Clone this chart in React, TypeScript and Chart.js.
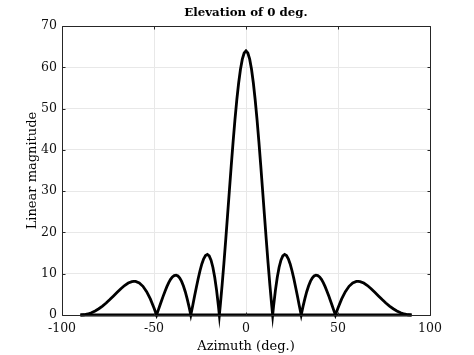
import React, { useEffect, useRef } from "react";
import { Chart, registerables } from "chart.js";

Chart.register(...registerables);

// Azimuth angles (deg.)
const azimuth: number[] = [
  -90, -88, -86, -84, -82, -80, -78, -76, -74, -72, -70, -68, -66, -64, -62, -61, -60, -58, -56, -54, -52, -50,
  -49, -48.59, -48, -47, -46, -45, -44, -43, -42, -41, -40, -39, -38, -37, -36, -35, -34, -33, -32, -31,
  -30, -29, -28, -27, -26, -25, -24, -23, -22, -21, -20, -19, -18, -17, -16, -15, -14.48, -14, -13, -12,
  -11, -10, -9, -8, -7, -6, -5, -4, -3, -2, -1, 0,
  1, 2, 3, 4, 5, 6, 7, 8, 9, 10, 11, 12, 13, 14, 14.48, 15, 16, 17, 18, 19, 20, 21, 22, 23, 24, 25,
  26, 27, 28, 29, 30, 31, 32, 33, 34, 35, 36, 37, 38, 39, 40, 41, 42, 43, 44, 45, 46, 47, 48, 48.59, 49,
  50, 52, 54, 56, 58, 60, 61, 62, 64, 66, 68, 70, 72, 74, 76, 78, 80, 82, 84, 86, 88, 90,
];

// Linear magnitude
const magnitude: number[] = [
  0, 0.06, 0.25, 0.55, 0.98, 1.52, 2.17, 2.92, 3.75, 4.63, 5.52, 6.38, 7.15, 7.74, 8.1, 8.16, 8.13, 7.76, 6.95, 5.65, 3.89, 1.72,
  0.51, 0, 0.75, 2.04, 3.33, 4.58, 5.78, 6.87, 7.84, 8.63, 9.21, 9.56, 9.65, 9.45, 8.95, 8.15, 7.04, 5.64, 3.97, 2.08,
  0, 2.2, 4.46, 6.68, 8.8, 10.73, 12.36, 13.62, 14.41, 14.66, 14.31, 13.29, 11.58, 9.16, 6.04, 2.24, 0, 2.19, 7.16, 12.58,
  18.34, 24.32, 30.35, 36.3, 42.02, 47.34, 52.11, 56.23, 59.56, 62.0, 63.5, 64,
  63.5, 62.0, 59.56, 56.23, 52.11, 47.34, 42.02, 36.3, 30.35, 24.32, 18.34, 12.58, 7.16, 2.19, 0, 2.24, 6.04, 9.16, 11.58, 13.29, 14.31, 14.66, 14.41, 13.62, 12.36, 10.73,
  8.8, 6.68, 4.46, 2.2, 0, 2.08, 3.97, 5.64, 7.04, 8.15, 8.95, 9.45, 9.65, 9.56, 9.21, 8.63, 7.84, 6.87, 5.78, 4.58, 3.33, 2.04, 0.75, 0, 0.51,
  1.72, 3.89, 5.65, 6.95, 7.76, 8.13, 8.16, 8.1, 7.74, 7.15, 6.38, 5.52, 4.63, 3.75, 2.92, 2.17, 1.52, 0.98, 0.55, 0.25, 0.06, 0,
];

// Zero baseline trace
const baseAzimuth: number[] = [-90, 90];
const baseMagnitude: number[] = [0, 0];

const xTickValues: number[] = [-100, -50, 0, 50, 100];
const yTickValues: number[] = [0, 10, 20, 30, 40, 50, 60, 70];

const titleText = "Elevation of 0 deg.";
const xLabel = "Azimuth (deg.)";
const yLabel = "Linear magnitude";

const FONT = "'DejaVu Serif', serif";

const boxPlugin = {
  id: "boxPlugin",
  afterDraw(chart: any) {
    const { ctx, chartArea } = chart;
    const xs = chart.scales.x;
    const ys = chart.scales.y;
    ctx.save();
    ctx.strokeStyle = "#262626";
    ctx.lineWidth = 1;
    const L = Math.round(chartArea.left) + 0.5;
    const R = Math.round(chartArea.right) + 0.5;
    const T = Math.round(chartArea.top) + 0.5;
    const B = Math.round(chartArea.bottom) + 0.5;
    ctx.beginPath();
    ctx.rect(L, T, R - L, B - T);
    ctx.stroke();
    const tl = 3;
    ctx.beginPath();
    xTickValues.forEach((v) => {
      const px = Math.round(xs.getPixelForValue(v)) + 0.5;
      ctx.moveTo(px, T);
      ctx.lineTo(px, T + tl);
      ctx.moveTo(px, B);
      ctx.lineTo(px, B - tl);
    });
    yTickValues.forEach((v) => {
      const py = Math.round(ys.getPixelForValue(v)) + 0.5;
      ctx.moveTo(L, py);
      ctx.lineTo(L + tl, py);
      ctx.moveTo(R, py);
      ctx.lineTo(R - tl, py);
    });
    ctx.stroke();
    ctx.restore();
  },
};

export default function App() {
  const ref = useRef<HTMLCanvasElement | null>(null);

  useEffect(() => {
    if (!ref.current) return;
    const chart = new Chart(ref.current, {
      type: "line",
      data: {
        datasets: [
          {
            data: azimuth.map((a, i) => ({ x: a, y: magnitude[i] })),
            borderColor: "#000000",
            borderWidth: 2.8,
            pointRadius: 0,
            tension: 0,
            fill: false,
            clip: false as any,
          },
          {
            data: baseAzimuth.map((a, i) => ({ x: a, y: baseMagnitude[i] })),
            borderColor: "#000000",
            borderWidth: 2.8,
            pointRadius: 0,
            tension: 0,
            fill: false,
            clip: false as any,
          },
        ],
      },
      options: {
        animation: false,
        responsive: false,
        layout: { padding: { left: 0, right: 44, top: 0, bottom: 0 } },
        plugins: {
          legend: { display: false },
          tooltip: { enabled: false },
          title: {
            display: true,
            fullSize: false,
            text: titleText,
            color: "#000000",
            font: { family: FONT, size: 11.8, weight: "bold", lineHeight: 1.2 },
            padding: { top: 6, bottom: 6 },
          },
        },
        scales: {
          x: {
            type: "linear",
            min: -100,
            max: 100,
            afterFit: (s: any) => {
              s.height = 40;
            },
            afterBuildTicks: (s: any) => {
              s.ticks = xTickValues.map((v) => ({ value: v }));
            },
            ticks: {
              color: "#111111",
              font: { family: FONT, size: 12.5 },
              padding: 6,
              maxRotation: 0,
            },
            grid: { color: "#e8e8e8", drawTicks: false },
            border: { display: false },
            title: {
              display: true,
              text: xLabel,
              color: "#000000",
              font: { family: FONT, size: 13, lineHeight: 1.2 },
              padding: { top: 0, bottom: 1 },
            },
          },
          y: {
            type: "linear",
            min: 0,
            max: 70,
            afterFit: (s: any) => {
              s.width = 62;
            },
            afterBuildTicks: (s: any) => {
              s.ticks = yTickValues.map((v) => ({ value: v }));
            },
            ticks: {
              color: "#111111",
              font: { family: FONT, size: 12.5 },
              padding: 5,
            },
            grid: { color: "#e8e8e8", drawTicks: false },
            border: { display: false },
            title: {
              display: true,
              text: yLabel,
              color: "#000000",
              font: { family: FONT, size: 13, lineHeight: 1.2 },
              padding: { top: 25, bottom: 0 },
            },
          },
        },
      },
      plugins: [boxPlugin],
    });
    return () => chart.destroy();
  }, []);

  return (
    <div style={{ position: "absolute", left: 0, top: 0, width: 474, height: 355, background: "#ffffff" }}>
      <canvas ref={ref} width={474} height={355} style={{ display: "block" }} />
    </div>
  );
}
